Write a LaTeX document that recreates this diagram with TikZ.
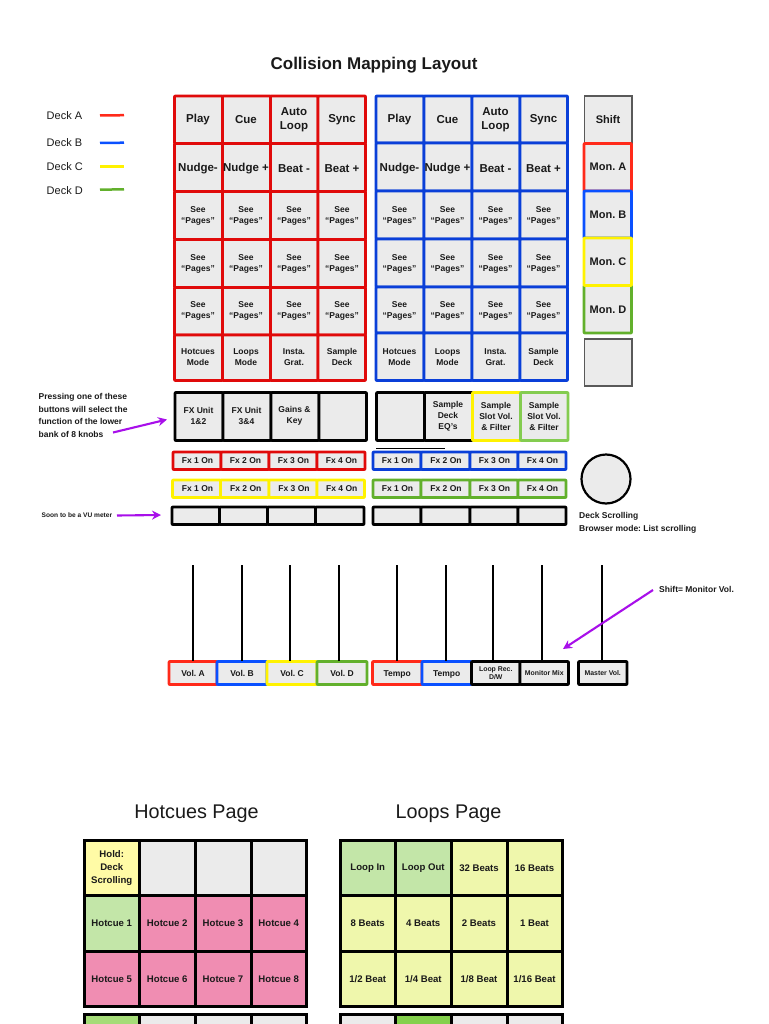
\documentclass[tikz,border=0pt]{standalone}
\usepackage{fontspec}
\setmainfont{Liberation Sans}
\usetikzlibrary{arrows.meta}
\frenchspacing
\definecolor{dred}{HTML}{E00A0A}
\definecolor{dredb}{HTML}{FF2A1A}
\definecolor{dblue}{HTML}{0A3FD8}
\definecolor{dblueb}{HTML}{0A50FF}
\definecolor{dyel}{HTML}{FFF200}
\definecolor{dgrn}{HTML}{62B02C}
\definecolor{dlgrn}{HTML}{84CC50}
\definecolor{cellg}{HTML}{EBEBEB}
\definecolor{purp}{HTML}{A80FEA}
\definecolor{txt}{HTML}{1A1A1A}
\definecolor{pink}{HTML}{F08DB2}
\definecolor{lgrn}{HTML}{C3E6A8}
\definecolor{lyel}{HTML}{EFF7AC}
\definecolor{pyel}{HTML}{FFFBA6}
\definecolor{mgrn}{HTML}{A5DC78}
\definecolor{sgrn}{HTML}{84D04C}
\tikzset{
  x=1pt,y=-1pt,
  cellbox/.style={draw=#1,line width=2.7pt,fill=cellg,rounded corners=0.6pt,line join=round},
  thinbox/.style={draw=#1,line width=1.4pt,fill=cellg},
  pagecell/.style={draw=black,line width=3pt,fill=#1},
  big/.style={font=\bfseries\fontsize{11.5}{13.5}\selectfont,text=txt,align=center,inner sep=0pt},
  bigr/.style={font=\bfseries\fontsize{11}{13}\selectfont,text=txt,align=center,inner sep=0pt},
  med/.style={font=\bfseries\fontsize{8.5}{11}\selectfont,text=txt,align=center,inner sep=0pt},
  small/.style={font=\bfseries\fontsize{9.6}{12.8}\selectfont,text=txt,align=center,inner sep=0pt},
  tiny/.style={font=\bfseries\fontsize{6.9}{7.5}\selectfont,text=txt,align=center,inner sep=0pt},
  note/.style={font=\bfseries\fontsize{8.5}{12.8}\selectfont,text=txt,align=left,inner sep=0pt},
  legend/.style={font=\fontsize{11}{12}\selectfont,text=txt,inner sep=0pt,anchor=west},
  legline/.style={line width=2.5pt,#1},
  pagetitle/.style={font=\fontsize{19.8}{22}\selectfont,text=txt,inner sep=0pt},
  callout/.style={draw=purp,line width=2.1pt,-{Stealth[length=9pt,width=9pt,inset=3pt]}},
  slider/.style={draw=black,line width=2pt},
}
\begin{document}
\begin{tikzpicture}
\useasboundingbox (0,0) rectangle (768,1024);
\fill[white] (0,0) rectangle (768,1024);
\node[font=\bfseries\fontsize{17}{20}\selectfont,text=txt,inner sep=0pt] (title) at (374,65.5) {Collision Mapping Layout};
% legend
\node[legend] (la) at (46.5,115.5) {Deck A};
\node[legend] (lb) at (46.5,142.5) {Deck B};
\node[legend] (lc) at (46.5,166.5) {Deck C};
\node[legend] (ld) at (46.5,190.5) {Deck D};
\draw[legline=dredb] (100,115.5) -- (124,115.2);
\draw[legline=dblueb] (100,143) -- (124,142.7);
\draw[legline=dyel] (100,166.7) -- (124,166.7);
\draw[legline=dgrn] (100,189.7) -- (124,189.3);
% main grids
\foreach \a/\b in {174.5/222.5,222.5/270.5,270.5/318,318/365.5}{
  \foreach \c/\d in {96/143.5,143.5/191.5,191.5/239.5,239.5/287.5,287.5/335,335/380.5}{
    \draw[cellbox=dred] (\a,\c) rectangle (\b,\d);
  }
}
\foreach \a/\b in {376/424,424/472,472/520,520/567.5}{
  \foreach \c/\d in {96/143,143/191,191/239,239/287,287/333,333/380.5}{
    \draw[cellbox=dblue] (\a,\c) rectangle (\b,\d);
  }
}
\foreach \o/\p/\q/\r/\s in {0/198/246/294/342,1/399.5/447.5/495.5/543.5}{
  \node[big] (play\o) at (\p,119.5) {Play};
  \node[big] (cue\o) at (\q,119.5) {Cue};
  \node[big] (auto\o) at (\r,119.5) {Auto\\Loop};
  \node[big] (sync\o) at (\s,119.5) {Sync};
  \node[big] (n1\o) at (\p,169) {Nudge-};
  \node[big] (n2\o) at (\q,169) {Nudge +};
  \node[big] (b1\o) at (\r,168.5) {Beat -};
  \node[big] (b2\o) at (\s,168.5) {Beat +};
  \foreach \yy/\nm in {215.5/a,263.5/b,311/c}{
    \node[med] (s\o\nm1) at (\p,\yy) {See\\“Pages”};
    \node[med] (s\o\nm2) at (\q,\yy) {See\\“Pages”};
    \node[med] (s\o\nm3) at (\r,\yy) {See\\“Pages”};
    \node[med] (s\o\nm4) at (\s,\yy) {See\\“Pages”};
  }
  \node[med] (hm\o) at (\p,357.5) {Hotcues\\Mode};
  \node[med] (lm\o) at (\q,357.5) {Loops\\Mode};
  \node[med] (im\o) at (\r,357.5) {Insta.\\Grat.};
  \node[med] (sm\o) at (\s,357) {Sample\\Deck};
}
% right column
\draw[thinbox=black!65] (584.5,96) rectangle (632,143.5);
\draw[thinbox=black!65] (584.5,339) rectangle (632,386);
\draw[cellbox=dredb] (584,143.5) rectangle (631.5,191);
\draw[cellbox=dblueb] (584,191) rectangle (631.5,238);
\draw[cellbox=dgrn] (584,285.5) rectangle (631.5,333);
\draw[cellbox=dyel] (584,238) rectangle (631.5,285.5);
\node[bigr] (shift) at (608,119.5) {Shift};
\node[bigr] (mona) at (608,167) {Mon. A};
\node[bigr] (monb) at (608,214.5) {Mon. B};
\node[bigr] (monc) at (608,261.5) {Mon. C};
\node[bigr] (mond) at (608,309.5) {Mon. D};
% FX unit row
\foreach \a/\b in {175/223,223/271,271/319,319/366.5,376.5/424.5,424.5/472.5}{
  \draw[cellbox=black] (\a,392.5) rectangle (\b,440.5);
}
\draw[cellbox=dyel] (472.5,392.5) rectangle (520.5,440.5);
\draw[cellbox=dlgrn] (520.5,392.5) rectangle (568,440.5);
\node[med] (fxu1) at (198.5,416) {FX Unit\\1\&2};
\node[med] (fxu2) at (246.5,416) {FX Unit\\3\&4};
\node[med] (gk) at (294.5,416) {Gains \&\\Key};
\node[med] (sde) at (448,416) {Sample\\Deck\\EQ’s};
\node[med] (ssy) at (496,416) {Sample\\Slot Vol.\\\& Filter};
\node[med] (ssg) at (544,416) {Sample\\Slot Vol.\\\& Filter};
\coordinate (ula) at (376,448);
\coordinate (ulb) at (445,448);
\draw[black,line width=0.8pt] (ula) -- (ulb);
% Fx rows
\foreach \a/\b/\n [count=\i] in {173/221/1,221/269/2,269/317/3,317/365/4}{
  \draw[cellbox=dred] (\a,452) rectangle (\b,469.5);
  \node[med] (fa\i) at ({(\a+\b)/2+0.5},461) {Fx \n{} On};
}
\foreach \a/\b/\n [count=\i] in {172.5/220.5/1,220.5/269/2,269/317/3,317/364.5/4}{
  \draw[cellbox=dyel] (\a,480) rectangle (\b,497.5);
  \node[med] (fc\i) at ({(\a+\b)/2+1},489) {Fx \n{} On};
}
\foreach \a/\b [count=\i] in {172/219.5,219.5/267.5,267.5/315.5,315.5/364}{
  \draw[cellbox=black] (\a,507) rectangle (\b,524.5);
}
\foreach \a/\b/\n [count=\i] in {373/421/1,421/470/2,470/518/3,518/566/4}{
  \draw[cellbox=dblue] (\a,452) rectangle (\b,469.5);
  \draw[cellbox=dgrn] (\a,480) rectangle (\b,497.5);
  \draw[cellbox=black] (\a,507) rectangle (\b,524.5);
  \node[med] (fb\i) at ({(\a+\b)/2+0.5},461) {Fx \n{} On};
  \node[med] (fd\i) at ({(\a+\b)/2+0.5},489) {Fx \n{} On};
}
% knob
\node[circle,draw=black,line width=2.2pt,fill=cellg,minimum size=49pt,inner sep=0pt] (knob) at (606,479) {};
% fader boxes
\foreach \n/\a/\b/\col/\t/\fx/\ty in {
  va/169/217/dredb/{Vol. A}/193/673,
  vb/217/267/dblueb/{Vol. B}/241.5/673,
  vc/267/317/dyel/{Vol. C}/290/673,
  vd/317/367/dgrn/{Vol. D}/338.5/673,
  ta/372.5/422/dredb/{Tempo}/396.5/674,
  tb/422/471.5/dblueb/{Tempo}/445.5/674}{
  \draw[cellbox=\col] (\a,661.5) rectangle (\b,684.5);
  \node[med] (\n) at ({(\a+\b)/2},\ty) {\t};
  \coordinate (\n t) at (\fx,565);
  \coordinate (\n b) at (\fx,660.5);
  \draw[slider] (\n t) -- (\n b);
}
\foreach \n/\a/\b/\t/\fx in {
  lr/471.5/520/{Loop Rec.\\D/W}/493,
  mm/520/568.5/{Monitor Mix}/542,
  mv/578.5/627/{Master Vol.}/602}{
  \draw[cellbox=black] (\a,661.5) rectangle (\b,684.5);
  \node[tiny] (\n) at ({(\a+\b)/2},673) {\t};
  \coordinate (\n t) at (\fx,565);
  \coordinate (\n b) at (\fx,660.5);
  \draw[slider] (\n t) -- (\n b);
}
% notes
\node[note,anchor=north west] (n1) at (38.5,393) {Pressing one of these\\buttons will select the\\function of the lower\\bank of 8 knobs};
\node[font=\bfseries\fontsize{6.6}{8}\selectfont,text=txt,inner sep=0pt,anchor=west] (n2) at (41.5,515.5) {Soon to be a VU meter};
\node[note,anchor=north west] (n3) at (579,512.5) {Deck Scrolling\\Browser mode: List scrolling};
\node[font=\bfseries\fontsize{8.5}{10}\selectfont,text=txt,inner sep=0pt,anchor=west] (n4) at (659,589.5) {Shift= Monitor Vol.};
\coordinate (a1s) at (113,432.5);
\coordinate (a1e) at (167,419.5);
\coordinate (a2s) at (117,515.5);
\coordinate (a2e) at (161,515);
\coordinate (a3s) at (653,590);
\coordinate (a3e) at (563,649);
\draw[callout] (a1s) -- (a1e);
\draw[callout] (a2s) -- (a2e);
\draw[callout] (a3s) -- (a3e);
% page titles
\node[pagetitle] (hp) at (196.5,813.5) {Hotcues Page};
\node[pagetitle] (lp) at (448.5,813.5) {Loops Page};
% pages
\foreach \a/\b/\c/\d/\f/\t/\n in {
 84/139.5/840/895.5/pyel/{Hold:\\Deck\\Scrolling}/h1,
 139.5/195/840/895.5/cellg/{}/h2,
 195/251/840/895.5/cellg/{}/h3,
 251/306.5/840/895.5/cellg/{}/h4,
 84/139.5/895.5/951.5/lgrn/{Hotcue 1}/h5,
 139.5/195/895.5/951.5/pink/{Hotcue 2}/h6,
 195/251/895.5/951.5/pink/{Hotcue 3}/h7,
 251/306.5/895.5/951.5/pink/{Hotcue 4}/h8,
 84/139.5/951.5/1006.5/pink/{Hotcue 5}/h9,
 139.5/195/951.5/1006.5/pink/{Hotcue 6}/h10,
 195/251/951.5/1006.5/pink/{Hotcue 7}/h11,
 251/306.5/951.5/1006.5/pink/{Hotcue 8}/h12,
 84/139.5/1014/1040/mgrn/{}/h13,
 139.5/195/1014/1040/cellg/{}/h14,
 195/251/1014/1040/cellg/{}/h15,
 251/306.5/1014/1040/cellg/{}/h16,
 340/395.5/840/895.5/lgrn/{Loop In}/l1,
 395.5/451/840/895.5/lgrn/{Loop Out}/l2,
 451/507/840/895.5/lyel/{32 Beats}/l3,
 507/562/840/895.5/lyel/{16 Beats}/l4,
 340/395.5/895.5/951.5/lyel/{8 Beats}/l5,
 395.5/451/895.5/951.5/lyel/{4 Beats}/l6,
 451/507/895.5/951.5/lyel/{2 Beats}/l7,
 507/562/895.5/951.5/lyel/{1 Beat}/l8,
 340/395.5/951.5/1006.5/lyel/{1/2 Beat}/l9,
 395.5/451/951.5/1006.5/lyel/{1/4 Beat}/l10,
 451/507/951.5/1006.5/lyel/{1/8 Beat}/l11,
 507/562/951.5/1006.5/lyel/{1/16 Beat}/l12,
 340/395.5/1014/1040/cellg/{}/l13,
 395.5/451/1014/1040/sgrn/{}/l14,
 451/507/1014/1040/cellg/{}/l15,
 507/562/1014/1040/cellg/{}/l16}{
  \draw[pagecell=\f] (\a,\c) rectangle (\b,\d);
  \node[small] (\n) at ({(\a+\b)/2},{(\c+\d)/2}) {\t};
}
\end{tikzpicture}
\end{document}
